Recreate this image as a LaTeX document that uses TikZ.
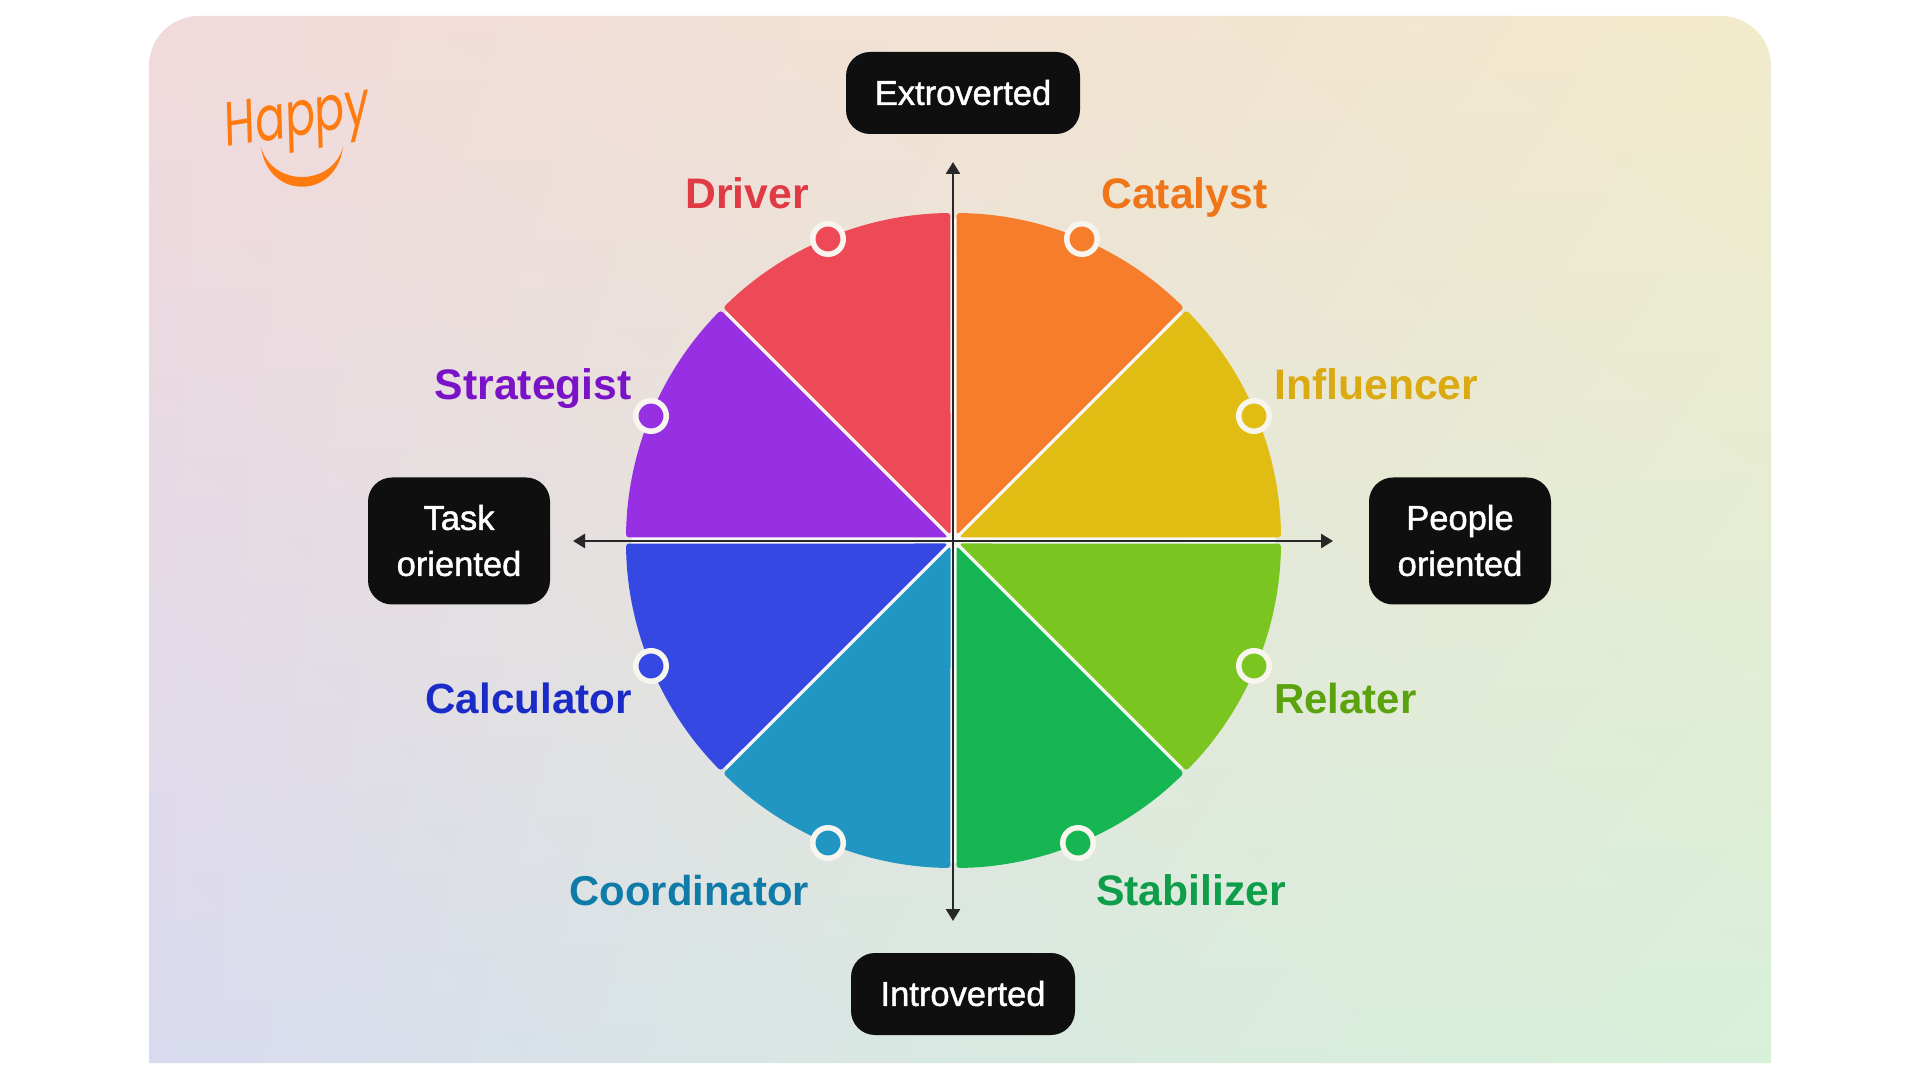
\documentclass[tikz,border=0pt]{standalone}
\usepackage{fontspec}
\setmainfont{Liberation Sans}
\newfontfamily\logofont{Poppins}
\usetikzlibrary{arrows.meta,shadings}
\pgfdeclarefunctionalshading{panelbg}{\pgfpoint{0bp}{0bp}}{\pgfpoint{100bp}{100bp}}{}{
25 sub 50 div exch 25 sub 50 div exch
1 index dup 1 exch sub mul 1 index 1 exch sub mul 0.6 mul 3 -1 roll add exch
1 index -0.004 mul 0.851 add 1 index 0.098 mul add 2 index 2 index mul 0.004 mul add 3 1 roll
1 index 0.086 mul 0.855 add 2 index 2 index mul -0.023 mul add 3 1 roll
1 index -0.086 mul 0.941 add 1 index -0.082 mul add 2 index 2 index mul 0.023 mul add 3 1 roll
pop pop
}
\definecolor{cDriver}{HTML}{EE4957}\definecolor{cCatalyst}{HTML}{F57D2B}
\definecolor{cInfluencer}{HTML}{E1BC13}\definecolor{cRelater}{HTML}{7AC520}
\definecolor{cStabilizer}{HTML}{16B652}\definecolor{cCoordinator}{HTML}{2296C2}
\definecolor{cCalculator}{HTML}{3548E2}\definecolor{cStrategist}{HTML}{9630E2}
\definecolor{tDriver}{HTML}{E03A45}\definecolor{tCatalyst}{HTML}{EF7518}
\definecolor{tInfluencer}{HTML}{DBAA10}\definecolor{tRelater}{HTML}{5BA30E}
\definecolor{tStabilizer}{HTML}{0E9E4A}\definecolor{tCoordinator}{HTML}{0F7BA8}
\definecolor{tCalculator}{HTML}{1B2BC8}\definecolor{tStrategist}{HTML}{7A12C8}
\definecolor{ink}{HTML}{0F0F0F}\definecolor{logoc}{HTML}{FF7A0F}\definecolor{ringc}{HTML}{F8F5EE}
\newcommand{\lift}[1]{\raisebox{1.2pt}{#1}}
\tikzset{
  blackbox/.style={fill=ink,text=white,rounded corners=24pt,inner sep=0pt,align=center,
    font=\fontsize{34.5}{46}\selectfont\addfontfeature{FakeBold=1.3}},
  traitlabel/.style={inner sep=0pt,font=\fontsize{#1}{46}\selectfont\bfseries},
  traitlabel/.default=42.7,
  ringdot/.style={circle,minimum size=30.5pt,inner sep=0pt,draw=ringc,line width=5.5pt},
  axisline/.style={draw=ink!90,line width=2.6pt,{Triangle[width=14pt,length=12pt]}-{Triangle[width=14pt,length=12pt]}},
}
\newcommand{\wedgepart}[3]{%
  \begin{scope}[shift={(953.5,539.5)},rotate=#1,yscale=#2]
    \fill[#3,rounded corners=3pt] (5.5,3) -- (0.53:327.5) arc[start angle=0.53,end angle=44.69,radius=327.5] -- cycle;
  \end{scope}}
\begin{document}
\begin{tikzpicture}[x=1pt,y=1pt]
\useasboundingbox (0,0) rectangle (1920,1080);
\fill[white] (0,0) rectangle (1920,1080);
\shade[shading=panelbg] (149,17) -- (149,1014) arc[start angle=180,end angle=90,radius=50] -- (1721,1064) arc[start angle=90,end angle=0,radius=50] -- (1771,17) -- cycle;
% wheel
\fill[white,opacity=.7] (953.5,539.5) circle[radius=322];
\wedgepart{0}{1}{cInfluencer}
\wedgepart{90}{-1}{cCatalyst}
\wedgepart{90}{1}{cDriver}
\wedgepart{180}{-1}{cStrategist}
\wedgepart{180}{1}{cCalculator}
\wedgepart{270}{-1}{cCoordinator}
\wedgepart{270}{1}{cStabilizer}
\wedgepart{0}{-1}{cRelater}
% axes
\coordinate (axT) at (953,918);
\coordinate (axB) at (953,159);
\coordinate (axL) at (573,539);
\coordinate (axR) at (1333,539);
\draw[axisline] (axB) -- (axT);
\draw[axisline] (axL) -- (axR);
% dots
\node[ringdot,fill=cDriver] (dDriver) at (828,841) {};
\node[ringdot,fill=cCatalyst] (dCatalyst) at (1082,841) {};
\node[ringdot,fill=cStrategist] (dStrategist) at (651,664) {};
\node[ringdot,fill=cInfluencer] (dInfluencer) at (1254,664) {};
\node[ringdot,fill=cCalculator] (dCalculator) at (651,414) {};
\node[ringdot,fill=cRelater] (dRelater) at (1254,414) {};
\node[ringdot,fill=cCoordinator] (dCoordinator) at (828,237) {};
\node[ringdot,fill=cStabilizer] (dStabilizer) at (1078,237) {};
% labels
\node[traitlabel,text=tDriver,anchor=base east] (lDriver) at (809,871) {Driver};
\node[traitlabel,text=tCatalyst,anchor=base west] (lCatalyst) at (1101,871) {Catalyst};
\node[traitlabel,text=tStrategist,anchor=base east] (lStrategist) at (632,680) {Strategist};
\node[traitlabel,text=tInfluencer,anchor=base west] (lInfluencer) at (1274,680) {Influencer};
\node[traitlabel=42.2,text=tCalculator,anchor=base east] (lCalculator) at (632,366) {Calculator};
\node[traitlabel=42,text=tRelater,anchor=base west] (lRelater) at (1274,366) {Relater};
\node[traitlabel=41.8,text=tCoordinator,anchor=base east] (lCoordinator) at (809,175) {Coordinator};
\node[traitlabel,text=tStabilizer,anchor=base west] (lStabilizer) at (1096,175) {Stabilizer};
% boxes
\node[blackbox,minimum width=234pt,minimum height=82pt] (bExtro) at (963,987) {\lift{Extroverted}};
\node[blackbox,minimum width=224pt,minimum height=82pt] (bIntro) at (963,86) {\lift{Introverted}};
\node[blackbox,minimum width=182pt,minimum height=127pt] (bTask) at (459,539) {\lift{Task}\\\lift{oriented}};
\node[blackbox,minimum width=182pt,minimum height=127pt] (bPeople) at (1460,539) {\lift{People}\\\lift{oriented}};
% logo
\node[inner sep=0pt,rotate=9,text=logoc,font=\logofont\itshape\fontsize{62}{62}\selectfont] (logoText) at (298,958) {\scalebox{0.72}[1]{Happy}};
\fill[logoc] (261,933) .. controls (268,880) and (336,880) .. (343,933) .. controls (332,893) and (272,893) .. (261,933);
\end{tikzpicture}
\end{document}
